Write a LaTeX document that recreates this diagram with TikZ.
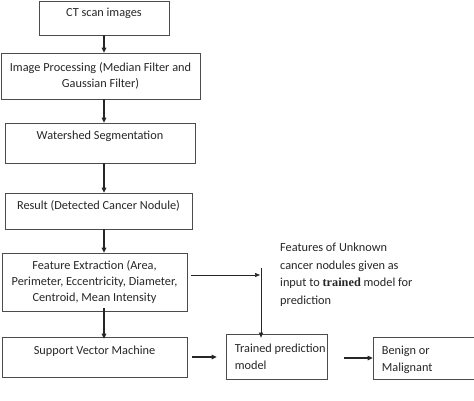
\documentclass[tikz,border=0pt]{standalone}
\usepackage{fontspec}
\setmainfont{Carlito}
\newfontfamily\serifword{Liberation Serif}
\usetikzlibrary{arrows.meta}

\tikzset{
  stagebox/.style={draw=black!70, line width=0.7pt, rectangle, inner sep=0pt,
    align=center, text=black!85, font=\fontsize{12.3}{16.3}\selectfont},
  flow/.style={-{Triangle[length=5pt,width=4.5pt]}, line width=1.1pt, black!85},
  thinflow/.style={-{Triangle[length=5pt,width=4pt]}, line width=0.6pt, black!85},
  plaintext/.style={inner sep=0pt, font=\fontsize{12.3}{17.5}\selectfont, text=black!85}
}

\begin{document}
\begin{tikzpicture}[x=1pt,y=-1pt]
    \useasboundingbox (0,0) rectangle (474,400);

    % main column
    \node[stagebox, minimum width=130pt, minimum height=34pt] (ct) at (104,18) {};
    \node[plaintext, anchor=north] (cttext) at ([yshift=-7pt]ct.north) {CT scan images};
    \node[stagebox, minimum width=199pt, minimum height=46pt] (proc) at (100.5,76)
      {Image Processing (Median Filter and\\Gaussian Filter)};
    \node[stagebox, minimum width=190pt, minimum height=40pt] (ws) at (100,143) {};
    \node[plaintext, anchor=north] (wstext) at ([yshift=-8pt]ws.north) {Watershed Segmentation};
    \node[stagebox, minimum width=187pt, minimum height=36pt] (res) at (98.5,211) {};
    \node[plaintext, anchor=north] (restext) at ([yshift=-8pt]res.north) {Result (Detected Cancer Nodule)};
    \node[stagebox, minimum width=185pt, minimum height=58pt] (feat) at (94.5,282)
      {Feature Extraction (Area,\\Perimeter, Eccentricity, Diameter,\\Centroid, Mean Intensity};
    \node[stagebox, minimum width=185pt, minimum height=40pt] (svm) at (94.5,357) {};
    \node[plaintext, anchor=north] (svmtext) at ([yshift=-9pt]svm.north) {Support Vector Machine};

    % right side
    \node[stagebox, minimum width=101pt, minimum height=45pt] (trained) at (276.5,356.5) {};
    \node[plaintext, anchor=north west, align=left] (trainedtext) at ([xshift=9pt,yshift=-10pt]trained.north west)
      {Trained prediction\\model};
    \node[stagebox, minimum width=104pt, minimum height=42pt] (benign) at (425,358) {};
    \node[plaintext, anchor=north west, align=left] (benigntext) at ([xshift=9pt,yshift=-9pt]benign.north west)
      {Benign or\\Malignant};
    \node[plaintext, anchor=north west, align=left] (note) at (280,243)
      {Features of Unknown\\cancer nodules given as\\input to {\serifword\bfseries trained} model for\\prediction};

    \coordinate (corner) at (261,275);

    \draw[flow] (ct.south -| 104,0) -- (proc.north -| 104,0);
    \draw[flow] (proc.south -| 104,0) -- (ws.north -| 104,0);
    \draw[flow] (ws.south -| 104,0) -- (res.north -| 104,0);
    \draw[flow] (res.south -| 104,0) -- (feat.north -| 104,0);
    \draw[flow] ([yshift=3pt]feat.south -| 104,0) -- ([yshift=-2pt]svm.north -| 104,0);
    \draw[flow] ([xshift=5pt]svm.east) -- ([xshift=-9pt]svm.east -| trained.west);
    \draw[flow] ([xshift=17pt]trained.east |- benign.west) -- (benign.west);
    \draw[thinflow] ([xshift=4pt]feat.east |- corner) -- ([xshift=-1pt]corner);
    \draw[thinflow] ([yshift=7pt]corner) -- ([yshift=-4pt]trained.north -| corner);

  \end{tikzpicture}
\end{document}
